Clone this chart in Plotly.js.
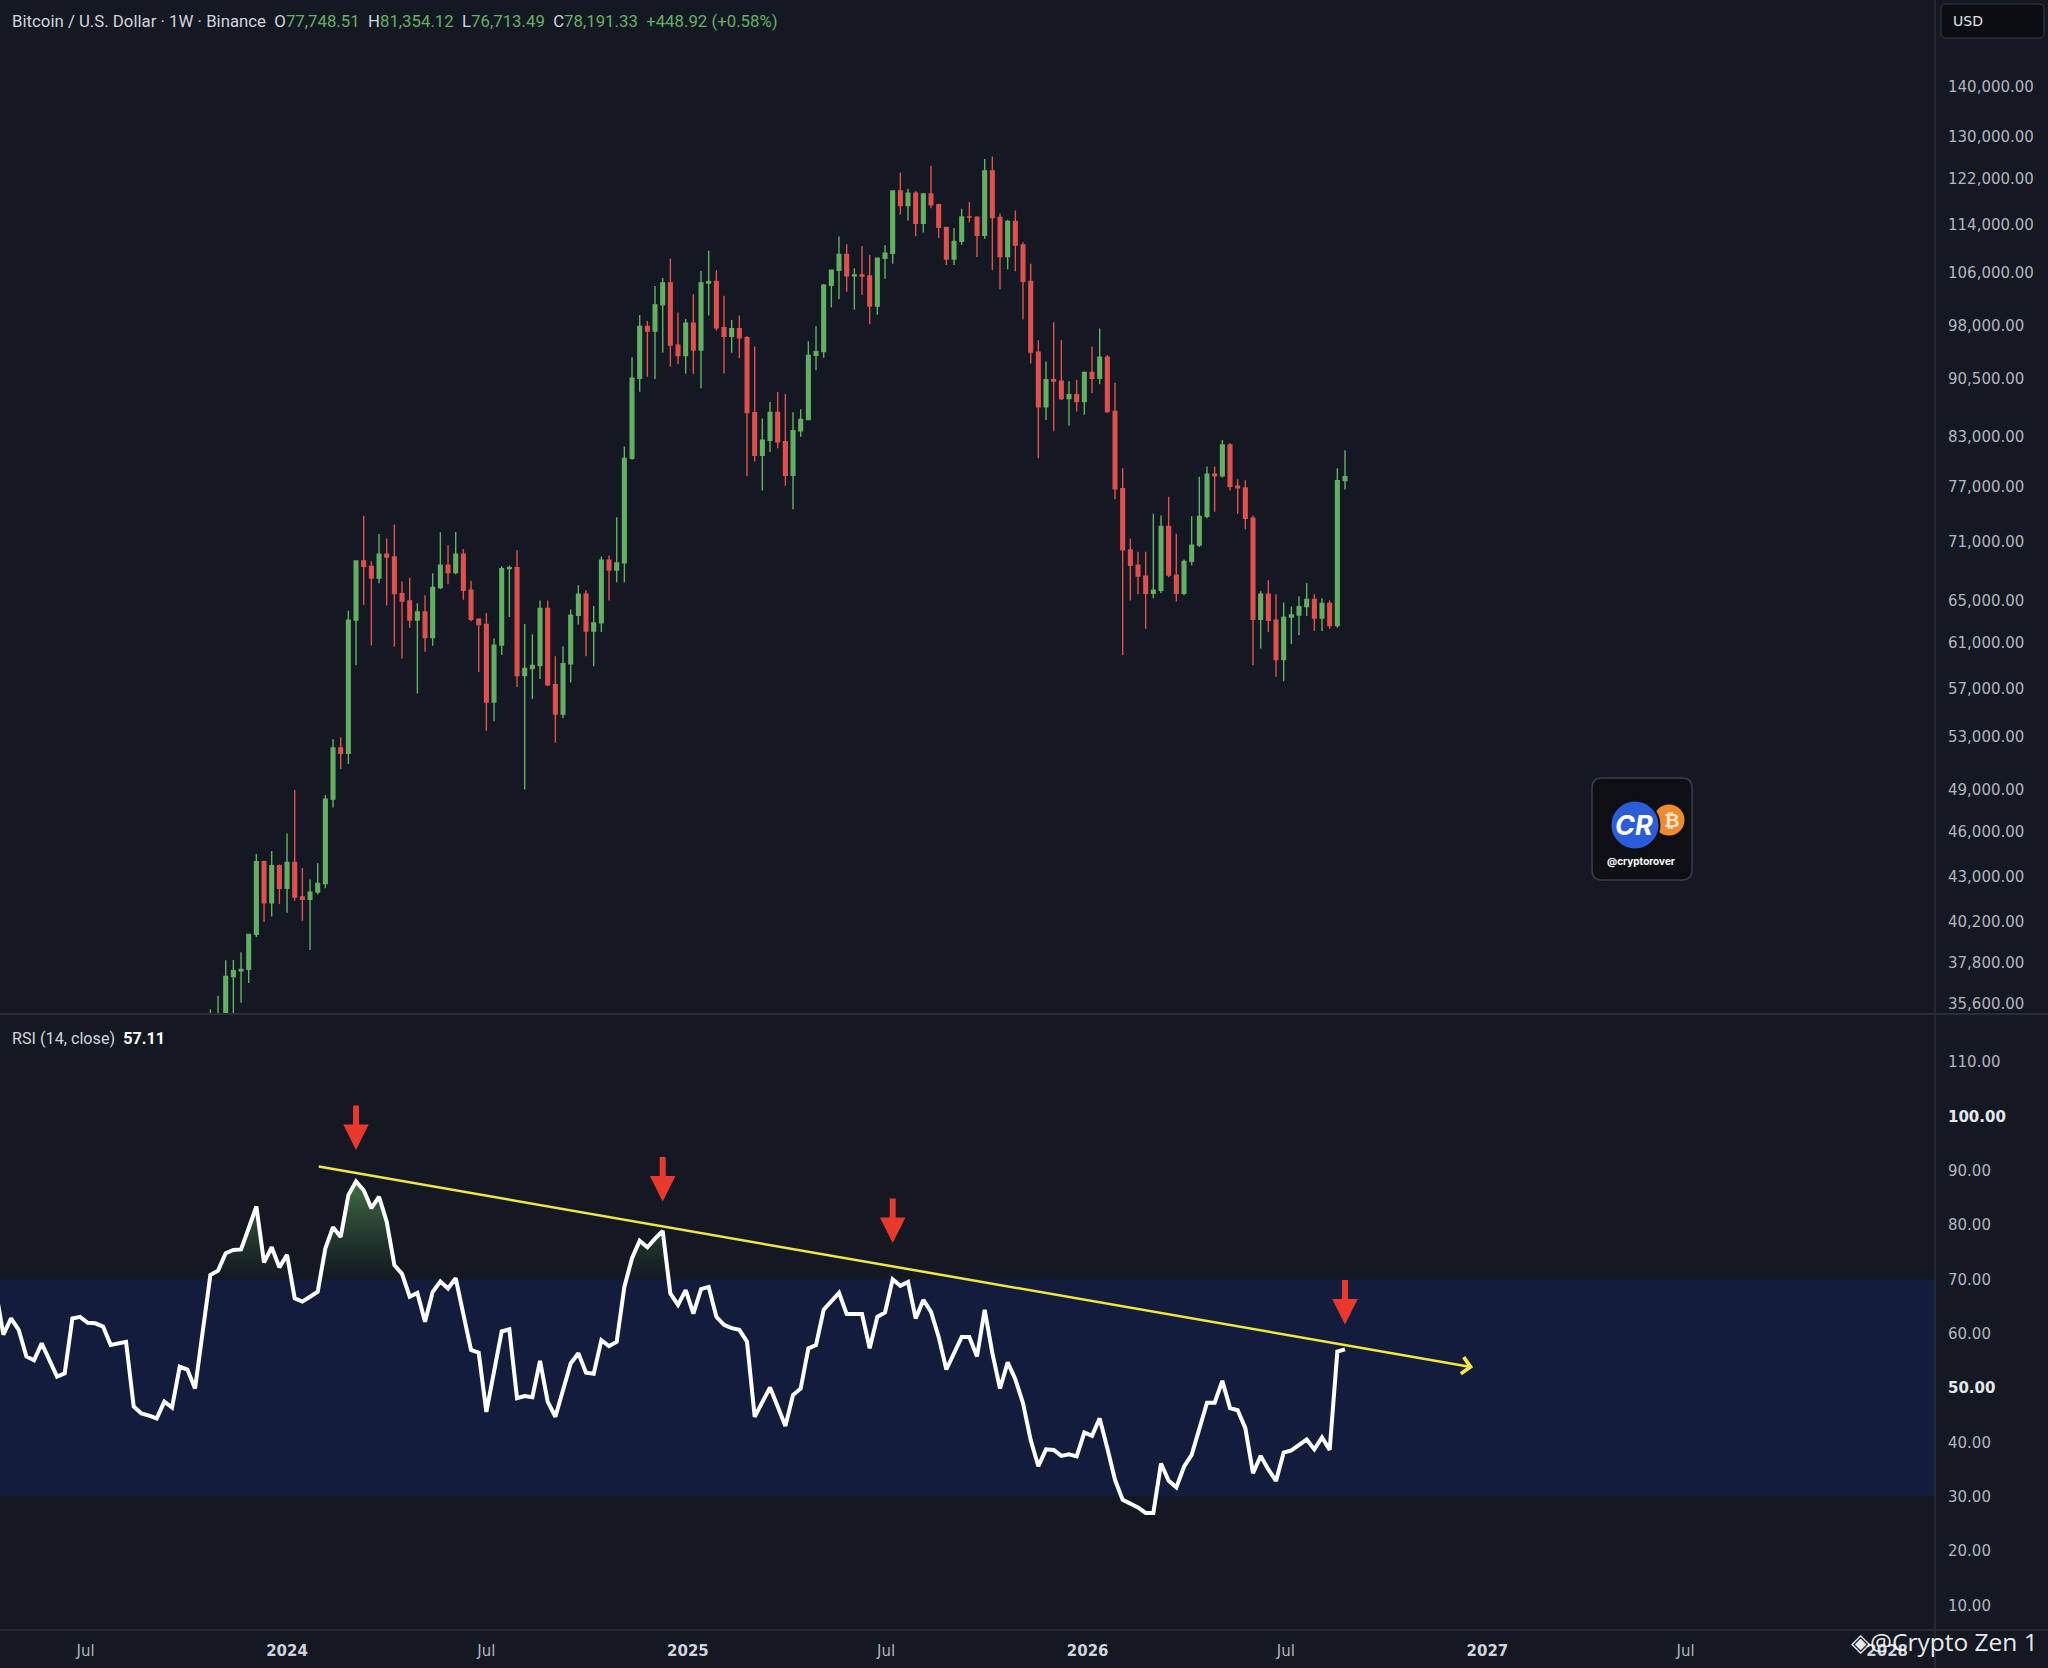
<!DOCTYPE html>
<html>
<head>
<meta charset="utf-8">
<script src="https://cdn.plot.ly/plotly-3.0.1.min.js"></script>
<style>
html,body{margin:0;padding:0;background:#141823;}
#chart{width:2048px;height:1668px;}
</style>
</head>
<body>
<div id="chart"></div>
<script>
// ---------- DATA (weekly candles, Binance BTC/USD) ----------
const weeks = [
'2023-04-10','2023-04-17','2023-04-24','2023-05-01','2023-05-08','2023-05-15','2023-05-22','2023-05-29','2023-06-05','2023-06-12',
'2023-06-19','2023-06-26','2023-07-03','2023-07-10','2023-07-17','2023-07-24','2023-07-31','2023-08-07','2023-08-14','2023-08-21',
'2023-08-28','2023-09-04','2023-09-11','2023-09-18','2023-09-25','2023-10-02','2023-10-09','2023-10-16','2023-10-23','2023-10-30',
'2023-11-06','2023-11-13','2023-11-20','2023-11-27','2023-12-04','2023-12-11','2023-12-18','2023-12-25',
'2024-01-01','2024-01-08','2024-01-15','2024-01-22','2024-01-29','2024-02-05','2024-02-12','2024-02-19','2024-02-26','2024-03-04',
'2024-03-11','2024-03-18','2024-03-25','2024-04-01','2024-04-08','2024-04-15','2024-04-22','2024-04-29','2024-05-06','2024-05-13',
'2024-05-20','2024-05-27','2024-06-03','2024-06-10','2024-06-17','2024-06-24','2024-07-01','2024-07-08','2024-07-15','2024-07-22',
'2024-07-29','2024-08-05','2024-08-12','2024-08-19','2024-08-26','2024-09-02','2024-09-09','2024-09-16','2024-09-23','2024-09-30',
'2024-10-07','2024-10-14','2024-10-21','2024-10-28','2024-11-04','2024-11-11','2024-11-18','2024-11-25','2024-12-02','2024-12-09',
'2024-12-16','2024-12-23','2024-12-30',
'2025-01-06','2025-01-13','2025-01-20','2025-01-27','2025-02-03','2025-02-10','2025-02-17','2025-02-24','2025-03-03','2025-03-10',
'2025-03-17','2025-03-24','2025-03-31','2025-04-07','2025-04-14','2025-04-21','2025-04-28','2025-05-05','2025-05-12','2025-05-19',
'2025-05-26','2025-06-02','2025-06-09','2025-06-16','2025-06-23','2025-06-30','2025-07-07','2025-07-14','2025-07-21','2025-07-28',
'2025-08-04','2025-08-11','2025-08-18','2025-08-25','2025-09-01','2025-09-08','2025-09-15','2025-09-22','2025-09-29','2025-10-06',
'2025-10-13','2025-10-20','2025-10-27','2025-11-03','2025-11-10','2025-11-17','2025-11-24','2025-12-01','2025-12-08','2025-12-15',
'2025-12-22','2025-12-29',
'2026-01-05','2026-01-12','2026-01-19','2026-01-26','2026-02-02','2026-02-09','2026-02-16','2026-02-23','2026-03-02','2026-03-09',
'2026-03-16','2026-03-23','2026-03-30','2026-04-06','2026-04-13','2026-04-20','2026-04-27','2026-05-04','2026-05-11','2026-05-18',
'2026-05-25','2026-06-01','2026-06-08','2026-06-15','2026-06-22','2026-06-29','2026-07-06','2026-07-13','2026-07-20','2026-07-27',
'2026-08-03','2026-08-10','2026-08-17','2026-08-24'
];

const open = [
28320,30310,27590,29230,28850,26920,26850,28080,27110,25840,
26340,30520,30600,30160,30250,29770,29280,29050,29400,26100,
26010,25870,25840,26530,26250,27980,27920,26860,29990,34520,
35000,37050,37370,37450,39460,43990,41370,43720,
42280,43940,41730,41580,42030,42580,48300,52140,51730,63110,
68950,68390,67210,69650,69360,65660,64940,63110,63890,61480,
66270,68500,67760,69650,66000,63200,62700,55850,60800,68160,
68250,58100,58710,58970,64220,57300,54840,59130,63580,65600,
62080,62850,69030,68020,68750,80370,90600,97900,97200,101100,
104460,95190,93720,
98360,94500,104460,104700,97690,96460,97570,96250,86060,80730,
82570,86080,82390,78370,83760,85170,93750,94270,104100,106450,
109000,105600,105730,105560,100900,108390,109200,119840,117280,119450,
114210,119300,117400,113500,108250,111150,115300,115250,112160,123500,
115200,108650,114500,110550,104700,94200,86800,90400,90200,87900,
88400,87500,
91400,90600,93500,86200,76800,70100,68500,67400,65700,66000,
72600,67500,65700,68900,70600,73700,78500,78300,82000,77100,
76900,73500,63200,65600,63100,59500,63400,63600,64400,65100,
63300,64700,62600,77748.51
];

const high = [
31000,30480,30040,29830,29060,27660,28450,28450,27160,26800,
31400,31280,31500,31800,30400,29990,30050,30250,29690,26800,
28150,26400,26870,27480,27300,28600,28000,30300,35280,36000,
37970,37980,38420,38450,44490,44050,44700,43800,
45880,48970,43570,42840,43880,48590,52820,52980,64000,69000,
73780,68920,71770,71290,72800,66870,67230,64730,65500,67700,
71980,70600,71990,70200,66950,63300,63800,61400,68400,68470,
70080,62750,61800,65000,64990,59800,60700,64130,66500,66000,
64470,69400,69500,73600,81800,93480,99590,98700,104000,105250,
108350,99960,98980,
102720,106400,109590,106450,102500,98830,99500,96500,95000,85300,
87450,88750,88500,86100,86500,95760,97900,104300,105800,111980,
110700,106800,110400,108950,108530,110530,120000,123220,120250,119800,
119320,124470,117600,113600,113400,116700,117900,115400,125700,126200,
115900,114800,116400,111000,107500,95900,92900,98500,95900,90200,
90400,91500,
95000,97600,93800,90000,79200,71300,69900,69900,74000,73800,
75900,71800,69100,73700,78200,79400,79400,82600,82200,77900,
77800,73800,65900,67000,65600,64800,64400,65400,66700,65600,
65200,65000,79200,81354.12
];

const low = [
28170,27130,26940,27660,25810,26330,25870,26600,25350,24800,
26250,29500,29700,29950,29520,28860,28580,28700,25170,25350,
25330,24900,24930,26000,26000,27150,26550,26800,29900,33900,
34500,34800,35630,36700,39300,40200,40530,41300,
40750,41500,40280,38550,41880,42270,47700,50520,50900,59000,
64550,60770,66700,64500,60660,59600,62390,56550,60190,60750,
66100,66600,67600,65060,63000,58400,53500,54260,59900,63400,
57120,49000,56100,57800,57200,52550,54500,57500,62700,59800,
58900,62000,65000,66800,66800,80200,88800,90800,90500,94150,
92200,92520,91200,
91200,89250,99500,97300,91230,94100,93390,78250,80000,76600,
81150,81600,77150,74500,83000,85100,91700,93400,100700,102000,
103100,100370,102650,98200,99600,105100,107500,115700,114700,112000,
112650,116800,111700,107300,107300,110600,114400,108600,111600,106500,
103500,106600,106300,98900,92600,80400,85100,83700,87700,84400,
86200,85800,
88600,89800,86000,75600,59900,65000,65600,62300,65200,65700,
67300,64900,65500,68500,70400,73500,74200,78100,76600,74000,
72300,59000,60500,62000,58000,57600,60900,61700,63500,62100,
62100,62300,62400,76713.49
];

const close = [
30310,27590,29230,28850,26920,26850,28080,27110,25840,26340,
30520,30600,30160,30250,29770,29280,29050,29400,26100,26010,
25870,25840,26530,26250,27980,27920,26860,29990,34520,35000,
37050,37370,37450,39460,43990,41370,43720,42280,
43940,41730,41580,42030,42580,48300,52140,51730,63110,68950,
68390,67210,69650,69360,65660,64940,63110,63890,61480,66270,
68500,67760,69650,66000,63200,62700,55850,60800,68160,68250,
58100,58710,58970,64220,57300,54840,59130,63580,65600,62080,
62850,69030,68020,68750,80370,90600,97900,97200,101100,104460,
95190,93720,98360,
94500,104460,104700,97690,96460,97570,96250,86060,80730,82570,
86080,82390,78370,83760,85170,93750,94270,104100,106450,109000,
105600,105730,105560,100900,108390,109200,119840,117280,119450,114210,
119300,117400,113500,108250,111150,115300,115250,112160,123500,115200,
108650,114500,110550,104700,94200,86800,90400,90200,87900,88400,
87500,91400,
90600,93500,86200,76800,70100,68500,67400,65700,66000,72600,
67500,65700,68900,70600,73700,78500,78300,82000,77100,76900,
73500,63200,65600,63100,59500,63400,63600,64400,65100,63300,
64700,62600,77742.41,78191.33
];

// RSI (14, close)
const rsi = [
68.0,59.8,62.8,60.7,55.8,55.1,58.2,55.1,52.1,52.7,
62.8,63.1,62.0,61.9,61.3,57.9,58.2,58.5,46.6,45.3,
44.9,44.4,47.5,46.4,53.9,53.4,49.9,60.1,70.8,71.6,
74.8,75.4,75.5,79.4,83.4,73.1,75.9,72.2,
74.5,66.5,65.9,66.8,67.7,75.7,79.6,77.8,85.5,88.0,
86.4,83.1,85.2,80.6,72.6,71.0,66.8,67.5,62.2,67.7,
69.6,68.3,70.2,63.6,57.0,56.5,45.6,53.0,60.4,60.8,
48.1,48.5,48.3,55.0,47.5,44.7,49.6,54.5,56.4,52.8,
52.6,58.8,57.7,58.5,68.6,73.9,77.1,75.9,77.5,78.9,
67.4,65.3,68.0,
63.7,68.2,68.6,63.1,61.6,61.0,60.7,58.5,44.7,47.4,
50.1,46.6,43.0,48.7,49.9,57.3,57.9,64.4,65.9,67.5,
63.6,63.6,63.6,57.3,63.1,63.9,70.0,68.8,69.5,62.8,
66.2,64.0,59.4,53.4,56.5,59.4,59.4,55.8,64.4,56.4,
49.9,54.7,51.6,47.2,40.4,35.6,38.7,38.6,37.5,37.8,
37.4,41.8,
41.2,44.4,38.9,33.1,29.4,28.8,28.0,27.0,27.0,36.1,
32.9,31.7,35.5,37.7,42.3,47.3,47.3,51.3,46.3,45.9,
42.6,34.3,37.5,35.0,32.9,38.1,38.5,39.5,40.5,38.7,
40.9,38.6,56.7,57.11
];

const priceTicks = [140000,130000,122000,114000,106000,98000,90500,83000,77000,71000,65000,61000,57000,53000,49000,46000,43000,40200,37800,35600];
const rsiTicks = [10,20,30,40,50,60,70,80,90,100,110];
const timeTicks = ['2023-07-01','2024-01-01','2024-07-01','2025-01-01','2025-07-01','2026-01-01','2026-07-01','2027-01-01','2027-07-01','2028-01-01'];
const timeTickLabels = ['Jul','2024','Jul','2025','Jul','2026','Jul','2027','Jul','2028'];

// annotations drawn on the RSI pane
const arrowDates = ['2024-03-04','2024-12-09','2025-07-07','2026-08-24'];
const arrowTips = [93.8,84.3,76.7,61.7];
const trendStart = {date:'2024-01-28 14:00', value:90.8};
const trendEnd = {date:'2026-12-19', value:53.8};

// ---------- STYLE ----------
const BG = '#141823';
const GREEN = '#63b064';
const RED = '#e0504e';
const AXIS_TXT = '#b2b5be';
const W = 1935, H = 1630;          // plot area in px
const px = v => v / W;             // pixel -> paper x
const py = v => 1 - v / H;         // pixel -> paper y

const fmt = v => v.toLocaleString('en-US',{minimumFractionDigits:2, maximumFractionDigits:2});

const n = close.length;
const lastO = open[n-1], lastH = high[n-1], lastL = low[n-1], lastC = close[n-1];
const chg = lastC - close[n-2];
const chgPct = chg / close[n-2] * 100;

const traces = [
  {
    type:'candlestick', x:weeks, open:open, high:high, low:low, close:close,
    xaxis:'x', yaxis:'y',
    increasing:{line:{color:GREEN, width:1.4}, fillcolor:GREEN},
    decreasing:{line:{color:RED, width:1.4}, fillcolor:RED},
    whiskerwidth:0, hoverinfo:'none', showlegend:false
  },
  {
    type:'scatter', mode:'lines', x:weeks, y:rsi.map(()=>70), xaxis:'x', yaxis:'y2',
    line:{width:0, color:'rgba(0,0,0,0)'}, hoverinfo:'skip', showlegend:false
  },
  {
    type:'scatter', mode:'lines', x:weeks, y:rsi.map(v=>Math.max(v,70)), xaxis:'x', yaxis:'y2',
    line:{width:0, color:'rgba(0,0,0,0)'}, fill:'tonexty',
    fillgradient:{type:'vertical', start:70, stop:90,
      colorscale:[[0,'rgba(60,120,60,0.0)'],[1,'rgba(95,170,90,0.7)']]},
    hoverinfo:'skip', showlegend:false
  },
  {
    type:'scatter', mode:'lines', x:weeks, y:rsi, xaxis:'x', yaxis:'y2',
    line:{color:'#ffffff', width:4}, hoverinfo:'skip', showlegend:false
  }
];

function roundRect(x0,y0,x1,y1,r){
  const P = (x,y)=> px(x).toFixed(6)+','+py(y).toFixed(6);
  return 'M'+P(x0+r,y0)+' L'+P(x1-r,y0)+' Q'+P(x1,y0)+' '+P(x1,y0+r)+
         ' L'+P(x1,y1-r)+' Q'+P(x1,y1)+' '+P(x1-r,y1)+
         ' L'+P(x0+r,y1)+' Q'+P(x0,y1)+' '+P(x0,y1-r)+
         ' L'+P(x0,y0+r)+' Q'+P(x0,y0)+' '+P(x0+r,y0)+' Z';
}
function circle(cx,cy,r,fill,lineColor,lineW){
  return {type:'circle', xref:'paper', yref:'paper', x0:px(cx-r), x1:px(cx+r), y0:py(cy+r), y1:py(cy-r),
          fillcolor:fill, line:{color:lineColor||fill, width:lineW||0}};
}

const shapes = [
  {type:'rect', xref:'paper', yref:'y2', x0:0, x1:1, y0:30, y1:70, fillcolor:'#131c3a', line:{width:0}, layer:'below'},
  {type:'line', xref:'paper', yref:'paper', x0:0, x1:px(2048), y0:py(1014), y1:py(1014), line:{color:'#2a2e39', width:2}},
  {type:'line', xref:'paper', yref:'paper', x0:0, x1:px(2048), y0:0, y1:0, line:{color:'#2a2e39', width:1.5}},
  {type:'line', xref:'paper', yref:'paper', x0:1, x1:1, y0:py(1668), y1:1, line:{color:'#2a2e39', width:1.5}},
  {type:'path', xref:'paper', yref:'paper', path:roundRect(1941,4,2044,38,5), fillcolor:'#0b0d12', line:{color:'#363a45', width:1}},
  {type:'path', xref:'paper', yref:'paper', path:roundRect(1592,778,1692,880,10), fillcolor:'#0d0f14', line:{color:'#3a3d48', width:1.5}},
  circle(1669,820,15.5,'#ef8a2f'),
  circle(1635,825,24.5,'#2c5dd8','#0d0f14',2)
];

const SP = '\u00a0\u00a0';
const headerText =
  '<span style="color:#d1d4dc">Bitcoin / U.S. Dollar · 1W · Binance</span>'+SP+
  '<span style="color:#d1d4dc">O</span><span style="color:'+GREEN+'">'+fmt(lastO)+'</span>'+SP+
  '<span style="color:#d1d4dc">H</span><span style="color:'+GREEN+'">'+fmt(lastH)+'</span>'+SP+
  '<span style="color:#d1d4dc">L</span><span style="color:'+GREEN+'">'+fmt(lastL)+'</span>'+SP+
  '<span style="color:#d1d4dc">C</span><span style="color:'+GREEN+'">'+fmt(lastC)+'</span>'+SP+
  '<span style="color:'+GREEN+'">'+(chg>=0?'+':'')+fmt(chg)+' ('+(chg>=0?'+':'')+chgPct.toFixed(2)+'%)</span>';

const annotations = [
  {xref:'paper', yref:'paper', x:px(10), y:py(21), xanchor:'left', yanchor:'middle', showarrow:false,
   text:headerText, font:{family:'Roboto, sans-serif', size:16.8, color:'#d1d4dc'}},
  {xref:'paper', yref:'paper', x:px(10), y:py(1038), xanchor:'left', yanchor:'middle', showarrow:false,
   text:'<span style="color:#d1d4dc">RSI (14, close)</span>'+SP+'<b><span style="color:#ffffff">'+rsi[n-1].toFixed(2)+'</span></b>',
   font:{family:'Roboto, sans-serif', size:16.2, color:'#d1d4dc'}},
  {xref:'paper', yref:'paper', x:px(1951), y:py(21), xanchor:'left', yanchor:'middle', showarrow:false,
   text:'USD', font:{family:'DejaVu Sans, sans-serif', size:14, color:'#e0e3eb'}},
  {xref:'paper', yref:'paper', x:px(2040), y:py(1641), xanchor:'right', yanchor:'middle', showarrow:false,
   text:'◈@Crypto Zen 1', font:{family:'Open Sans, sans-serif', size:24.5, color:'rgba(255,255,255,0.93)'}},
  {xref:'paper', yref:'paper', x:px(1634), y:py(826), xanchor:'center', yanchor:'middle', showarrow:false,
   text:'<b><i>CR</i></b>', font:{family:'Inter, sans-serif', size:27, color:'#ffffff'}},
  {xref:'paper', yref:'paper', x:px(1671), y:py(820), xanchor:'center', yanchor:'middle', showarrow:false,
   text:'<b>₿</b>', font:{family:'DejaVu Sans, sans-serif', size:19, color:'#fde6cc'}},
  {xref:'paper', yref:'paper', x:px(1641), y:py(862), xanchor:'center', yanchor:'middle', showarrow:false,
   text:'<b>@cryptorover</b>', font:{family:'Inter, sans-serif', size:10, color:'#ffffff'}},
  {xref:'x', yref:'y2', x:trendEnd.date, y:trendEnd.value, axref:'x', ayref:'y2', ax:trendStart.date, ay:trendStart.value,
   text:'', showarrow:true, arrowhead:4, arrowsize:1.3, arrowwidth:2.5, arrowcolor:'#f3e63f', standoff:0}
];
arrowDates.forEach((d,k)=>{
  annotations.push({xref:'x', yref:'y2', x:d, y:arrowTips[k], ax:0, ay:-46, text:'', showarrow:true,
    arrowhead:2, arrowsize:0.85, arrowwidth:6, arrowcolor:'#e8392c', standoff:0});
});

const layout = {
  width:2048, height:1668,
  paper_bgcolor:BG, plot_bgcolor:BG,
  margin:{l:0, r:113, t:0, b:38, pad:0},
  showlegend:false, hovermode:false, dragmode:false,
  boxgap:0.32,
  xaxis:{
    type:'date', anchor:'y2', range:['2023-04-13 22:00','2028-02-13 17:00'],
    rangeslider:{visible:false}, showgrid:false, zeroline:false, showline:false,
    tickmode:'array', tickvals:timeTicks,
    ticktext:timeTickLabels.map(t=> /^\d{4}$/.test(t) ? '<b><span style="color:#d1d4dc">'+t+'</span></b>' : t),
    ticks:'', ticklabelstandoff:10,
    tickfont:{family:'DejaVu Sans, sans-serif', size:15, color:AXIS_TXT}
  },
  yaxis:{
    domain:[py(1013),1], type:'log', range:[4.54514,5.20259], side:'right', anchor:'x',
    showgrid:false, zeroline:false, showline:false, ticks:'', ticklabelstandoff:12,
    tickmode:'array', tickvals:priceTicks, ticktext:priceTicks.map(fmt),
    tickfont:{family:'DejaVu Sans, sans-serif', size:15, color:AXIS_TXT}
  },
  yaxis2:{
    domain:[0,py(1015)], range:[5.45,118.65], side:'right', anchor:'x',
    showgrid:false, zeroline:false, showline:false, ticks:'', ticklabelstandoff:12,
    tickmode:'array', tickvals:rsiTicks,
    ticktext:rsiTicks.map(v=> (v===50||v===100) ? '<b><span style="color:#e6e8ee">'+fmt(v)+'</span></b>' : fmt(v)),
    tickfont:{family:'DejaVu Sans, sans-serif', size:15, color:AXIS_TXT}
  },
  shapes:shapes,
  annotations:annotations
};

Plotly.newPlot('chart', traces, layout, {displayModeBar:false, staticPlot:true, responsive:false});
</script>
</body>
</html>
